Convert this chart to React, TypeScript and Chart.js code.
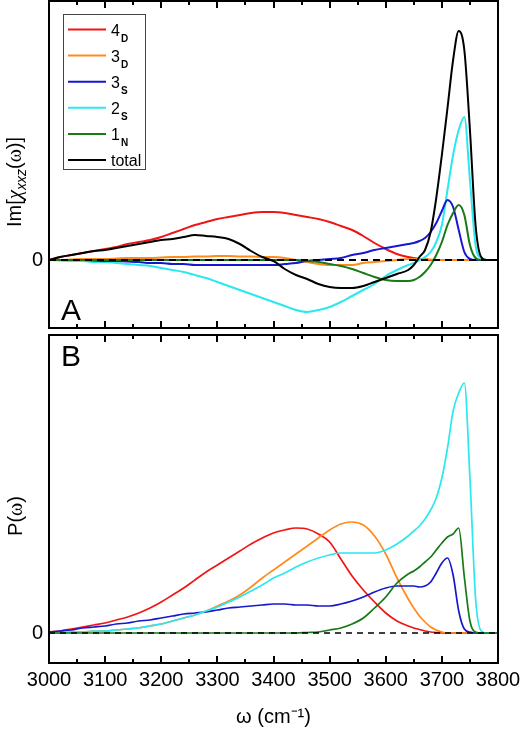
import React, { useEffect, useRef } from "react";
import { Chart, registerables } from "chart.js";

Chart.register(...registerables);

// ---------- data ----------
const OMEGA = [3000, 3020, 3040, 3060, 3080, 3100, 3120, 3140, 3160, 3180, 3200, 3220, 3240, 3260, 3280, 3300, 3320, 3340, 3360, 3380, 3400, 3420, 3440, 3460, 3480, 3500, 3520, 3540, 3560, 3580, 3600, 3620, 3640, 3650, 3660, 3670, 3680, 3690, 3700, 3710, 3720, 3730, 3740, 3750, 3760, 3770, 3780, 3790, 3800];

// Panel A: Im[chi_xxz(omega)]
const IM_4D = [0, 0.03, 0.05, 0.07, 0.09, 0.11, 0.13, 0.16, 0.18, 0.2, 0.23, 0.27, 0.31, 0.35, 0.38, 0.41, 0.43, 0.45, 0.47, 0.48, 0.48, 0.47, 0.45, 0.43, 0.41, 0.38, 0.34, 0.3, 0.24, 0.17, 0.11, 0.06, 0.03, 0.02, 0.01, 0.005, 0, 0, 0, 0, 0, 0, 0, 0, 0, 0, 0, 0, 0];
const IM_3D = [0, 0, 0.005, 0.01, 0.01, 0.01, 0.015, 0.02, 0.02, 0.02, 0.025, 0.03, 0.03, 0.035, 0.035, 0.04, 0.04, 0.035, 0.035, 0.03, 0.03, 0.02, 0, -0.02, -0.04, -0.05, -0.05, -0.05, -0.03, -0.02, -0.01, 0, 0.01, 0.01, 0.01, 0.01, 0.005, 0, 0, 0, 0, 0, 0, 0, 0, 0, 0, 0, 0];
const IM_3S = [0, 0, 0, 0, -0.005, -0.01, -0.01, -0.015, -0.02, -0.03, -0.03, -0.04, -0.04, -0.05, -0.05, -0.05, -0.05, -0.05, -0.05, -0.05, -0.05, -0.04, -0.03, -0.01, 0, 0.01, 0.02, 0.05, 0.07, 0.1, 0.12, 0.14, 0.16, 0.17, 0.19, 0.22, 0.28, 0.37, 0.49, 0.6, 0.53, 0.3, 0.08, 0.01, 0, 0, 0, 0, 0];
const IM_2S = [0, -0.005, -0.01, -0.01, -0.02, -0.02, -0.03, -0.04, -0.05, -0.06, -0.08, -0.1, -0.12, -0.15, -0.18, -0.22, -0.26, -0.3, -0.34, -0.38, -0.42, -0.46, -0.5, -0.52, -0.5, -0.47, -0.42, -0.36, -0.3, -0.24, -0.16, -0.1, -0.05, -0.03, 0, 0.03, 0.08, 0.18, 0.35, 0.7, 1.05, 1.3, 1.43, 0.8, 0.15, 0.02, 0, 0, 0];
const IM_1N = [0, 0, 0, 0, 0, 0, 0, 0, 0, 0, 0, 0, 0, 0, 0, 0, 0, 0, 0, 0, 0, 0, 0, -0.01, -0.02, -0.04, -0.06, -0.09, -0.13, -0.17, -0.2, -0.21, -0.21, -0.2, -0.17, -0.12, -0.05, 0.05, 0.18, 0.35, 0.47, 0.55, 0.45, 0.15, 0.02, 0, 0, 0, 0];
const IM_TOTAL = [0, 0.03, 0.05, 0.07, 0.09, 0.1, 0.12, 0.14, 0.16, 0.18, 0.2, 0.21, 0.23, 0.25, 0.24, 0.23, 0.21, 0.16, 0.09, 0.03, -0.01, -0.09, -0.15, -0.19, -0.24, -0.27, -0.28, -0.28, -0.26, -0.22, -0.18, -0.14, -0.1, -0.05, 0.03, 0.1, 0.28, 0.62, 1.05, 1.52, 2.0, 2.29, 2.1, 1.3, 0.35, 0.03, 0, 0, 0];

// Panel B: P(omega)
const P_4D = [0.01, 0.02, 0.04, 0.06, 0.08, 0.1, 0.13, 0.16, 0.2, 0.25, 0.31, 0.38, 0.45, 0.53, 0.61, 0.68, 0.75, 0.82, 0.89, 0.95, 1.0, 1.03, 1.05, 1.04, 0.99, 0.91, 0.74, 0.57, 0.43, 0.31, 0.2, 0.12, 0.07, 0.05, 0.035, 0.02, 0.01, 0.005, 0, 0, 0, 0, 0, 0, 0, 0, 0, 0, 0];
const P_3D = [0, 0, 0.01, 0.01, 0.02, 0.02, 0.03, 0.04, 0.05, 0.07, 0.09, 0.12, 0.15, 0.18, 0.22, 0.27, 0.32, 0.38, 0.46, 0.55, 0.63, 0.71, 0.79, 0.87, 0.95, 1.03, 1.09, 1.11, 1.08, 0.97, 0.79, 0.55, 0.34, 0.25, 0.17, 0.11, 0.06, 0.03, 0.01, 0, 0, 0, 0, 0, 0, 0, 0, 0, 0];
const P_3S = [0.01, 0.02, 0.03, 0.05, 0.06, 0.07, 0.09, 0.1, 0.12, 0.13, 0.15, 0.17, 0.19, 0.2, 0.21, 0.23, 0.25, 0.26, 0.27, 0.28, 0.29, 0.29, 0.28, 0.28, 0.27, 0.27, 0.29, 0.32, 0.36, 0.41, 0.45, 0.47, 0.47, 0.47, 0.46, 0.47, 0.51, 0.6, 0.7, 0.75, 0.58, 0.22, 0.04, 0.01, 0, 0, 0, 0, 0];
const P_2S = [0, 0, 0.01, 0.01, 0.02, 0.02, 0.03, 0.04, 0.05, 0.07, 0.09, 0.12, 0.15, 0.18, 0.22, 0.26, 0.31, 0.36, 0.42, 0.48, 0.55, 0.6, 0.66, 0.71, 0.75, 0.78, 0.8, 0.8, 0.8, 0.8, 0.83, 0.89, 0.97, 1.02, 1.07, 1.14, 1.23, 1.35, 1.55, 1.85, 2.22, 2.4, 2.5, 1.55, 0.35, 0.02, 0, 0, 0];
const P_1N = [0, 0, 0, 0, 0, 0, 0, 0, 0, 0, 0, 0, 0, 0, 0, 0, 0, 0, 0, 0, 0, 0, 0, 0.005, 0.01, 0.03, 0.05, 0.09, 0.15, 0.25, 0.36, 0.5, 0.59, 0.62, 0.66, 0.71, 0.76, 0.83, 0.9, 0.96, 0.99, 1.05, 0.56, 0.12, 0.01, 0, 0, 0, 0];

const LEGEND_MAIN = ["4", "3", "3", "2", "1", "total"];
const LEGEND_SUB = ["D", "D", "S", "S", "N", ""];
const COLORS = ["#f01515", "#ff8a1e", "#1717d0", "#2ae8ee", "#167a16", "#000000"];

const X_LABEL_TICKS = [3000, 3100, 3200, 3300, 3400, 3500, 3600, 3700, 3800];
const X_MINOR_TICKS = [3050, 3150, 3250, 3350, 3450, 3550, 3650, 3750];
const Y_TICKS = [0];

const SANS = "'Liberation Sans', Arial, Helvetica, sans-serif";
const SERIF = "'Liberation Serif', 'Times New Roman', serif";

// ---------- helpers ----------
const pts = (ys: number[]) => ys.map((y, i) => ({ x: OMEGA[i], y }));

function lineDs(label: string, ys: number[], color: string, width: number, order: number) {
  return {
    label,
    data: pts(ys),
    borderColor: color,
    backgroundColor: color,
    borderWidth: width,
    pointRadius: 0,
    fill: false,
    cubicInterpolationMode: "monotone" as const,
    order,
  };
}

function zeroDs(dash: number[], width: number, order: number) {
  return {
    label: "zero",
    data: pts(OMEGA.map(() => 0)),
    borderColor: "#000",
    borderWidth: width,
    borderDash: dash,
    pointRadius: 0,
    fill: false,
    order,
  };
}

const frameTicksPlugin = {
  id: "frameTicks",
  afterDatasetsDraw(chart: any) {
    const { ctx, chartArea: a } = chart;
    const xs = chart.scales.x;
    ctx.save();
    ctx.strokeStyle = "#000";
    ctx.lineWidth = 2;
    ctx.beginPath();
    for (const v of X_LABEL_TICKS) {
      const px = Math.round(xs.getPixelForValue(v));
      ctx.moveTo(px, a.top);
      ctx.lineTo(px, a.top + 7);
      ctx.moveTo(px, a.bottom);
      ctx.lineTo(px, a.bottom - 7);
    }
    for (const v of X_MINOR_TICKS) {
      const px = Math.round(xs.getPixelForValue(v));
      ctx.moveTo(px, a.top);
      ctx.lineTo(px, a.top + 4);
      ctx.moveTo(px, a.bottom);
      ctx.lineTo(px, a.bottom - 4);
    }
    ctx.stroke();
    ctx.strokeRect(a.left, a.top, a.right - a.left, a.bottom - a.top);
    ctx.restore();
  },
};

type Part = { t: string; f: string; dy?: number };

function drawRotated(ctx: CanvasRenderingContext2D, cx: number, cy: number, parts: Part[]) {
  ctx.save();
  let w = 0;
  for (const p of parts) {
    ctx.font = p.f;
    w += ctx.measureText(p.t).width;
  }
  ctx.translate(cx, cy);
  ctx.rotate(-Math.PI / 2);
  ctx.fillStyle = "#000";
  ctx.textBaseline = "alphabetic";
  ctx.textAlign = "left";
  let x = -w / 2;
  for (const p of parts) {
    ctx.font = p.f;
    ctx.fillText(p.t, x, p.dy || 0);
    x += ctx.measureText(p.t).width;
  }
  ctx.restore();
}

const panelAPlugin = {
  id: "panelA",
  afterDraw(chart: any) {
    const ctx: CanvasRenderingContext2D = chart.ctx;
    // y title
    drawRotated(ctx, 21, 182, [
      { t: "Im[", f: `20px ${SANS}` },
      { t: "χ", f: `italic 21px ${SERIF}` },
      { t: "xxz", f: `italic 14px ${SANS}`, dy: 5 },
      { t: "(", f: `20px ${SANS}` },
      { t: "ω", f: `20px ${SERIF}` },
      { t: ")]", f: `20px ${SANS}` },
    ]);
    // panel letter
    ctx.save();
    ctx.fillStyle = "#000";
    ctx.font = `30px ${SANS}`;
    ctx.textBaseline = "alphabetic";
    ctx.fillText("A", 61, 320);
    // legend
    const bx = 63.5, by = 14.5, bw = 82, bh = 155;
    ctx.fillStyle = "#fff";
    ctx.fillRect(bx, by, bw, bh);
    ctx.strokeStyle = "#444";
    ctx.lineWidth = 1;
    ctx.strokeRect(bx, by, bw, bh);
    const ds = chart.data.datasets.filter((d: any) => d.label !== "zero");
    ds.forEach((d: any, i: number) => {
      const y = 29.5 + i * 26.1;
      ctx.strokeStyle = d.borderColor;
      ctx.lineWidth = 2;
      ctx.beginPath();
      ctx.moveTo(68, y);
      ctx.lineTo(106, y);
      ctx.stroke();
      ctx.fillStyle = "#000";
      ctx.font = `16px ${SANS}`;
      ctx.fillText(LEGEND_MAIN[i], 111, y + 6);
      const mw = ctx.measureText(LEGEND_MAIN[i]).width;
      if (LEGEND_SUB[i]) {
        ctx.font = `bold 10px ${SANS}`;
        ctx.fillText(LEGEND_SUB[i], 111 + mw + 1, y + 12);
      }
    });
    ctx.restore();
  },
};

const panelBPlugin = {
  id: "panelB",
  afterDraw(chart: any) {
    const ctx: CanvasRenderingContext2D = chart.ctx;
    drawRotated(ctx, 22, 516 - 332, [
      { t: "P(", f: `20px ${SANS}` },
      { t: "ω", f: `20px ${SERIF}` },
      { t: ")", f: `20px ${SANS}` },
    ]);
    ctx.save();
    ctx.fillStyle = "#000";
    ctx.font = `30px ${SANS}`;
    ctx.textBaseline = "alphabetic";
    ctx.fillText("B", 61, 366 - 332);
    ctx.restore();
  },
};

function yScale(min: number, max: number) {
  return {
    type: "linear" as const,
    min,
    max,
    afterBuildTicks: (s: any) => {
      s.ticks = Y_TICKS.map((v) => ({ value: v }));
    },
    afterFit: (s: any) => {
      s.width = 49;
      s.paddingTop = 0;
      s.paddingBottom = 0;
    },
    grid: { display: false, drawTicks: false },
    border: { display: false },
    ticks: { color: "#000", font: { family: SANS, size: 20 }, padding: 6, callback: (v: any) => String(v) },
  };
}

export default function App() {
  const refA = useRef<HTMLCanvasElement>(null);
  const refB = useRef<HTMLCanvasElement>(null);

  useEffect(() => {
    const labelsA = ["4_D", "3_D", "3_S", "2_S", "1_N", "total"];
    const chartA = new Chart(refA.current as HTMLCanvasElement, {
      type: "line",
      data: {
        datasets: [
          lineDs(labelsA[0], IM_4D, COLORS[0], 2, 7),
          lineDs(labelsA[1], IM_3D, COLORS[1], 2, 6),
          lineDs(labelsA[2], IM_3S, COLORS[2], 2, 4),
          lineDs(labelsA[3], IM_2S, COLORS[3], 2, 5),
          lineDs(labelsA[4], IM_1N, COLORS[4], 2, 3),
          lineDs(labelsA[5], IM_TOTAL, COLORS[5], 2, 1),
          zeroDs([7, 5], 2, 2),
        ],
      },
      options: {
        animation: false,
        responsive: false,
        layout: { padding: { left: 0, right: 22, top: 1, bottom: 4 } },
        plugins: { legend: { display: false }, tooltip: { enabled: false } },
        scales: {
          x: { type: "linear", min: 3000, max: 3800, display: false },
          y: yScale(-0.68, 2.59),
        },
      } as any,
      plugins: [frameTicksPlugin, panelAPlugin],
    });

    const chartB = new Chart(refB.current as HTMLCanvasElement, {
      type: "line",
      data: {
        datasets: [
          lineDs("4_D", P_4D, COLORS[0], 1.7, 6),
          lineDs("3_D", P_3D, COLORS[1], 1.7, 5),
          lineDs("3_S", P_3S, COLORS[2], 1.7, 4),
          lineDs("2_S", P_2S, COLORS[3], 1.7, 3),
          lineDs("1_N", P_1N, COLORS[4], 1.7, 2),
          zeroDs([6, 5], 1.5, 1),
        ],
      },
      options: {
        animation: false,
        responsive: false,
        layout: { padding: { left: 0, right: 22, top: 3, bottom: 0 } },
        plugins: { legend: { display: false }, tooltip: { enabled: false } },
        scales: {
          x: {
            type: "linear",
            min: 3000,
            max: 3800,
            afterBuildTicks: (s: any) => {
              s.ticks = X_LABEL_TICKS.map((v) => ({ value: v }));
            },
            afterFit: (s: any) => {
              s.height = 66;
              s.paddingLeft = 0;
              s.paddingRight = 0;
            },
            grid: { display: false, drawTicks: false },
            border: { display: false },
            ticks: {
              color: "#000",
              font: { family: SANS, size: 20 },
              padding: 5,
              maxRotation: 0,
              autoSkip: false,
              callback: (v: any) => String(v),
            },
            title: {
              display: true,
              text: "ω (cm⁻¹)",
              color: "#000",
              font: { family: SANS, size: 20 },
              padding: 0,
            },
          },
          y: yScale(-0.3, 2.98),
        },
      } as any,
      plugins: [frameTicksPlugin, panelBPlugin],
    });

    return () => {
      chartA.destroy();
      chartB.destroy();
    };
  }, []);

  return (
    <div style={{ position: "absolute", left: 0, top: 0, width: 520, height: 729, background: "#fff" }}>
      <canvas ref={refA} width={520} height={332} style={{ position: "absolute", left: 0, top: 0, width: 520, height: 332 }} />
      <canvas ref={refB} width={520} height={397} style={{ position: "absolute", left: 0, top: 332, width: 520, height: 397 }} />
    </div>
  );
}
